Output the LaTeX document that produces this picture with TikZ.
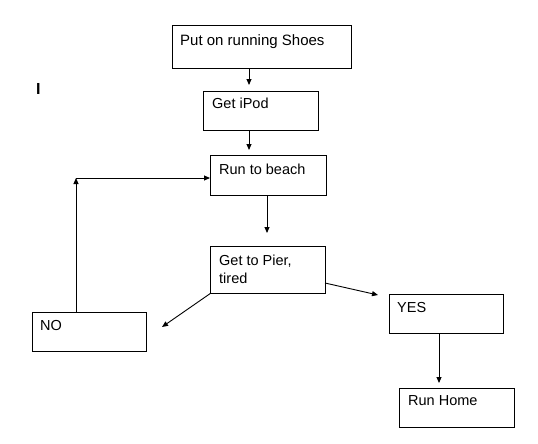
\documentclass[tikz,border=0pt]{standalone}
\usepackage{fontspec}
\setmainfont{Liberation Sans}
\usetikzlibrary{arrows.meta,calc}
\begin{document}
\begin{tikzpicture}[x=1pt,y=-1pt,
  box/.style={draw,line width=0.9pt,inner sep=0pt,anchor=north west},
  lbl/.style={anchor=base west,inner sep=0pt,font=\fontsize{14.5}{18}\selectfont},
  arr/.style={line width=0.9pt,-{Triangle[length=6pt,width=5pt]}}]
\useasboundingbox (0,0) rectangle (538,444);
% boxes
\node[box,minimum width=179pt,minimum height=43pt] (b1) at (172,25) {};
\node[box,minimum width=115pt,minimum height=39pt] (b2) at (203,91) {};
\node[box,minimum width=116pt,minimum height=40pt] (b3) at (210,155) {};
\node[box,minimum width=115pt,minimum height=47pt] (b4) at (210,246) {};
\node[box,minimum width=114pt,minimum height=39pt] (no) at (32,312) {};
\node[box,minimum width=114pt,minimum height=39pt] (yes) at (389,294) {};
\node[box,minimum width=115pt,minimum height=39pt] (rh) at (399,388) {};
% texts
\node[lbl,font=\fontsize{15}{18}\selectfont] (t1) at (180,46) {Put on running Shoes};
\node[lbl] (t2) at (212,108) {Get iPod};
\node[lbl] (t3) at (219,174) {Run to beach};
\node[lbl] (t4a) at (219,265) {Get to Pier,};
\node[lbl] (t4b) at (219,283) {tired};
\node[lbl] (tno) at (40,330) {NO};
\node[lbl] (tyes) at (397,312) {YES};
\node[lbl] (trh) at (408,405) {Run Home};
\node[lbl,font=\fontsize{16}{18}\bfseries] (ti) at (36,94) {I};
% coordinates
\coordinate (x1) at (249,0);
\coordinate (x3) at (267,0);
\coordinate (x5) at (439,0);
\coordinate (corner) at (76,178);
\coordinate (noend) at (162,327);
\coordinate (yesend) at (378,295);
\coordinate (b4sw) at (211,293);
\coordinate (b4e) at (325,283);
% connectors
\draw[arr,shorten >=6pt] (b1.south -| x1) -- (b2.north -| x1);
\draw[arr,shorten >=5pt] (b2.south -| x1) -- (b3.north -| x1);
\draw[arr,shorten >=13pt] (b3.south -| x3) -- (b4.north -| x3);
\draw[arr] (b4sw) -- (noend);
\draw[arr] (b4e) -- (yesend);
\draw[arr,shorten >=5pt] (yes.south -| x5) -- (rh.north -| x5);
\draw[arr] (no.north -| corner) -- (corner);
\draw[arr] (corner) -- (b3.west |- corner);
\end{tikzpicture}
\end{document}
